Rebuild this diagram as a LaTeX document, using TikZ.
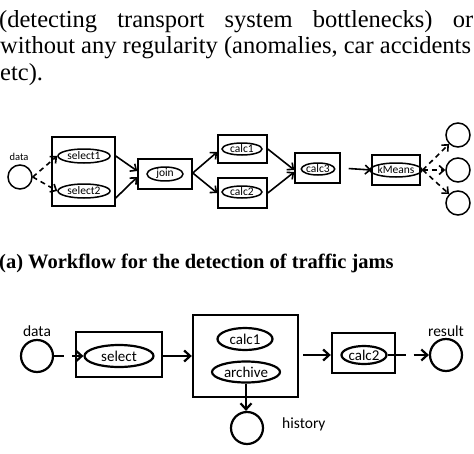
\documentclass[tikz,border=0pt]{standalone}
\usepackage{fontspec}
\setmainfont{Liberation Serif}
\setsansfont{Carlito}
\usetikzlibrary{shapes.geometric, arrows.meta, positioning}
\tikzset{
    para/.style={anchor=base west, inner sep=0pt, font=\fontsize{24.5}{24.5}\selectfont},
    job/.style={ellipse, draw, line width=1.5pt, inner sep=0pt, font=\sffamily\fontsize{11.5}{11.5}\selectfont},
    stage/.style={rectangle, draw, line width=1.5pt, inner sep=0pt},
    port/.style={circle, draw, line width=1.5pt, minimum size=24pt, inner sep=0pt},
    tag/.style={inner sep=0pt, font=\sffamily\fontsize{10.5}{10.5}\selectfont},
    flow/.style={-{Straight Barb[length=5pt,width=9pt]}, line width=1.6pt},
    dflow/.style={flow, dash pattern=on 5pt off 4pt},
    bigjob/.style={job, line width=2.2pt, font=\sffamily\fontsize{15}{15}\selectfont},
    bigstage/.style={stage, line width=2.4pt},
    bigport/.style={port, line width=2.2pt, minimum size=32pt},
    bigtag/.style={tag, font=\sffamily\fontsize{15.5}{15.5}\selectfont},
    bigflow/.style={-{Straight Barb[length=6pt,width=11pt]}, line width=2.2pt}
}

\begin{document}
\begin{tikzpicture}[x=1pt, y=-1pt]
    \useasboundingbox (0,0) rectangle (474,453);

    % Paragraph text
    \node (line1) [para] at (-1,27) {\hbox to 474pt{(detecting\hfill transport\hfill system\hfill bottlenecks)\hfill or}};
    \node (line2) [para] at (0,53) {without any regularity (anomalies, car accidents};
    \node (line3) [para] at (0,80) {etc).};

    % (a) Traffic jams workflow
    \node (data) [port] at (20,177) {};
    \node (datatag) [tag] at (19,157) {data};

    \node (selbox) [stage, minimum width=63pt, minimum height=69pt] at (83.5,171.5) {};
    \node (select1) [job, minimum width=52pt, minimum height=14pt] at (84,156) {select1};
    \node (select2) [job, minimum width=52pt, minimum height=14pt] at (84,191) {select2};

    \node (joinbox) [stage, minimum width=54pt, minimum height=30pt] at (165,174) {};
    \node (join) [job, minimum width=36pt, minimum height=12pt] at (165,174) {join};

    \node (calc1box) [stage, minimum width=49pt, minimum height=28pt] at (242.5,149) {};
    \node (calc1) [job, minimum width=40pt, minimum height=12pt] at (242,149) {calc1};
    \node (calc2box) [stage, minimum width=49pt, minimum height=30pt] at (242.5,193) {};
    \node (calc2) [job, minimum width=40pt, minimum height=12pt] at (242,192) {calc2};

    \node (calc3box) [stage, minimum width=45pt, minimum height=30pt] at (317.5,168) {};
    \node (calc3) [job, minimum width=33pt, minimum height=12pt] at (318,169) {calc3};

    \node (kmbox) [stage, minimum width=48pt, minimum height=30pt] at (396,170) {};
    \node (kmeans) [job, minimum width=46pt, minimum height=14pt] at (396,170) {kMeans};

    \node (out1) [port] at (458,135) {};
    \node (out2) [port] at (458,170) {};
    \node (out3) [port] at (458,203) {};

    \draw [dflow] (data.east) -- (select1.west);
    \draw [dflow] (data.east) -- (select2.west);
    \draw [flow] (selbox.east |- select1) -- ([yshift=3pt]joinbox.west);
    \draw [flow] ([yshift=-7pt]selbox.east |- select2) -- ([yshift=-3pt]joinbox.west);
    \draw [flow] ([yshift=1pt]joinbox.east) -- ([yshift=-3pt]calc1box.west);
    \draw [flow] ([yshift=1pt]joinbox.east) -- (calc2box.west);
    \draw [flow] (calc1box.east) -- ([yshift=-2pt]calc3box.west);
    \draw [flow] (calc2box.east) -- ([yshift=-4pt]calc3box.west);
    \draw [flow, shorten <=8pt] (calc3box.east) -- (kmbox.west);
    \draw [dflow] (kmeans.east) -- (out1.south west);
    \draw [dflow] (kmeans.east) -- (out2.west);
    \draw [dflow] (kmeans.east) -- (out3.north west);

    \node (capa) [anchor=base west, inner sep=0pt, font=\bfseries\fontsize{20.5}{20.5}\selectfont] at (-1,268) {(a) Workflow for the detection of traffic jams};

    % (b) Archive workflow
    \node (src) [bigport] at (37,356) {};
    \node (srctag) [bigtag] at (37,331) {data};

    \node (selectbox) [bigstage, minimum width=86pt, minimum height=45pt] at (119,354.5) {};
    \node (select) [bigjob, minimum width=69pt, minimum height=22pt] at (119,356) {select};

    \node (bigbox) [bigstage, minimum width=105pt, minimum height=82pt] at (245.5,356) {};
    \node (bcalc1) [bigjob, minimum width=55pt, minimum height=22pt] at (245,339) {calc1};
    \node (archive) [bigjob, minimum width=68pt, minimum height=21pt] at (246,372) {archive};

    \node (history) [bigport] at (247,428) {};
    \node (histtag) [bigtag, anchor=west] at (282,424) {history};

    \node (calc2b) [bigstage, minimum width=63pt, minimum height=40pt] at (363.5,353) {};
    \node (bcalc2) [bigjob, minimum width=45pt, minimum height=18pt] at (364,355) {calc2};

    \node (result) [bigport] at (446,355) {};
    \node (restag) [bigtag] at (446,331) {result};

    \draw [bigflow, dash pattern=on 10pt off 8pt] (src.east) -- (select.west);
    \draw [bigflow] (selectbox.east |- select) -- (bigbox.west |- select);
    \draw [bigflow] (archive.south) -- (archive.south |- history.north);
    \draw [bigflow, shorten <=4pt] (bigbox.east |- bcalc2) -- (calc2b.west |- bcalc2);
    \draw [bigflow, dash pattern=on 18pt off 8pt] (bcalc2.east) -- (result.west);

\end{tikzpicture}
\end{document}
